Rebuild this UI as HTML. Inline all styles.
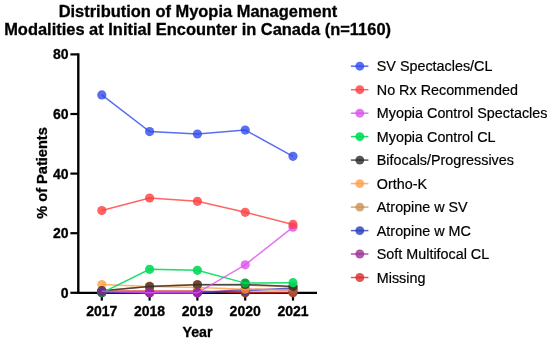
<!DOCTYPE html>
<html><head><meta charset="utf-8"><style>
html,body{margin:0;padding:0;background:#fff;width:550px;height:342px;overflow:hidden}
svg{display:block}
text{font-family:"Liberation Sans",Arial,sans-serif;fill:#000}
.b{font-weight:bold;stroke:#000;stroke-width:0.3px}
.n{stroke:#000;stroke-width:0.2px}
</style></head><body>
<svg width="550" height="342" viewBox="0 0 550 342">
<text class="b" x="197.9" y="16.6" font-size="16.45" text-anchor="middle">Distribution of Myopia Management</text>
<text class="b" x="197.6" y="35.0" font-size="16.45" text-anchor="middle">Modalities at Initial Encounter in Canada (n=1160)</text>
<g stroke="#000" fill="none">
<line x1="78.3" y1="53.3" x2="78.3" y2="294" stroke-width="2.4"/>
<line x1="77.1" y1="292.8" x2="317" y2="292.8" stroke-width="2.3"/>
<line x1="70.4" y1="292.8" x2="78.3" y2="292.8" stroke-width="2.2"/>
<line x1="70.4" y1="233.2" x2="78.3" y2="233.2" stroke-width="2.2"/>
<line x1="70.4" y1="173.6" x2="78.3" y2="173.6" stroke-width="2.2"/>
<line x1="70.4" y1="114.0" x2="78.3" y2="114.0" stroke-width="2.2"/>
<line x1="70.4" y1="54.4" x2="78.3" y2="54.4" stroke-width="2.2"/>
<line x1="101.8" y1="292.8" x2="101.8" y2="300.6" stroke-width="2.2"/>
<line x1="149.6" y1="292.8" x2="149.6" y2="300.6" stroke-width="2.2"/>
<line x1="197.4" y1="292.8" x2="197.4" y2="300.6" stroke-width="2.2"/>
<line x1="245.2" y1="292.8" x2="245.2" y2="300.6" stroke-width="2.2"/>
<line x1="293.0" y1="292.8" x2="293.0" y2="300.6" stroke-width="2.2"/>
</g>
<text class="b" x="68.6" y="297.8" font-size="14" text-anchor="end">0</text>
<text class="b" x="68.6" y="238.2" font-size="14" text-anchor="end">20</text>
<text class="b" x="68.6" y="178.6" font-size="14" text-anchor="end">40</text>
<text class="b" x="68.6" y="119.0" font-size="14" text-anchor="end">60</text>
<text class="b" x="68.6" y="59.4" font-size="14" text-anchor="end">80</text>
<text class="b" x="101.8" y="315.6" font-size="14" text-anchor="middle">2017</text>
<text class="b" x="149.6" y="315.6" font-size="14" text-anchor="middle">2018</text>
<text class="b" x="197.4" y="315.6" font-size="14" text-anchor="middle">2019</text>
<text class="b" x="245.2" y="315.6" font-size="14" text-anchor="middle">2020</text>
<text class="b" x="293.0" y="315.6" font-size="14" text-anchor="middle">2021</text>
<text class="b" x="197.5" y="337.1" font-size="14.2" text-anchor="middle">Year</text>
<text class="b" transform="translate(47.1,173.0) rotate(-90)" x="0" y="0" font-size="14.6" text-anchor="middle">% of Patients</text>
<circle cx="101.8" cy="291.0" r="4.6" fill="rgb(218,43,43)" opacity="0.8"/>
<circle cx="149.6" cy="291.0" r="4.6" fill="rgb(218,43,43)" opacity="0.8"/>
<circle cx="197.4" cy="291.0" r="4.6" fill="rgb(218,43,43)" opacity="0.8"/>
<circle cx="245.2" cy="292.8" r="4.6" fill="rgb(150,58,40)" opacity="1"/>
<circle cx="293.0" cy="292.8" r="4.6" fill="rgb(165,75,45)" opacity="1"/>
<polyline points="101.8,291.0 149.6,291.0 197.4,291.0 245.2,292.8 293.0,292.8" fill="none" stroke="rgb(218,43,43)" stroke-width="1.5" opacity="0.8"/>
<circle cx="101.8" cy="292.2" r="4.6" fill="rgb(159,46,146)" opacity="0.8"/>
<circle cx="149.6" cy="292.8" r="4.6" fill="rgb(159,46,146)" opacity="0.8"/>
<circle cx="197.4" cy="292.8" r="4.6" fill="rgb(159,46,146)" opacity="0.8"/>
<circle cx="245.2" cy="289.2" r="4.6" fill="rgb(159,46,146)" opacity="0.8"/>
<circle cx="293.0" cy="290.1" r="4.6" fill="rgb(159,46,146)" opacity="0.8"/>
<polyline points="101.8,292.2 149.6,292.8 197.4,292.8 245.2,289.2 293.0,290.1" fill="none" stroke="rgb(159,46,146)" stroke-width="1.5" opacity="0.8"/>
<circle cx="101.8" cy="292.8" r="4.6" fill="rgb(43,59,184)" opacity="0.8"/>
<circle cx="149.6" cy="292.8" r="4.6" fill="rgb(43,59,184)" opacity="0.8"/>
<circle cx="197.4" cy="292.8" r="4.6" fill="rgb(43,59,184)" opacity="0.8"/>
<circle cx="245.2" cy="290.7" r="4.6" fill="rgb(43,59,184)" opacity="0.8"/>
<circle cx="293.0" cy="288.0" r="4.6" fill="rgb(43,59,184)" opacity="0.8"/>
<polyline points="101.8,292.8 149.6,292.8 197.4,292.8 245.2,290.7 293.0,288.0" fill="none" stroke="rgb(43,59,184)" stroke-width="1.5" opacity="0.8"/>
<circle cx="101.8" cy="291.0" r="4.6" fill="rgb(201,146,84)" opacity="0.8"/>
<circle cx="149.6" cy="286.2" r="4.6" fill="rgb(201,146,84)" opacity="0.8"/>
<circle cx="197.4" cy="284.5" r="4.6" fill="rgb(201,146,84)" opacity="0.8"/>
<circle cx="245.2" cy="285.1" r="4.6" fill="rgb(201,146,84)" opacity="0.8"/>
<circle cx="293.0" cy="286.8" r="4.6" fill="rgb(201,146,84)" opacity="0.8"/>
<polyline points="101.8,291.0 149.6,286.2 197.4,284.5 245.2,285.1 293.0,286.8" fill="none" stroke="rgb(201,146,84)" stroke-width="1.5" opacity="0.8"/>
<circle cx="101.8" cy="284.5" r="4.6" fill="rgb(255,159,68)" opacity="0.8"/>
<circle cx="149.6" cy="286.5" r="4.6" fill="rgb(255,159,68)" opacity="0.8"/>
<circle cx="197.4" cy="287.4" r="4.6" fill="rgb(255,159,68)" opacity="0.8"/>
<circle cx="245.2" cy="289.2" r="4.6" fill="rgb(225,125,55)" opacity="1"/>
<circle cx="293.0" cy="290.1" r="4.6" fill="rgb(175,85,50)" opacity="1"/>
<polyline points="101.8,284.5 149.6,286.5 197.4,287.4 245.2,289.2 293.0,290.1" fill="none" stroke="rgb(255,159,68)" stroke-width="1.5" opacity="0.8"/>
<circle cx="101.8" cy="290.7" r="4.6" fill="rgb(43,43,43)" opacity="0.8"/>
<circle cx="149.6" cy="286.5" r="4.6" fill="rgb(108,70,42)" opacity="1"/>
<circle cx="197.4" cy="284.8" r="4.6" fill="rgb(108,70,42)" opacity="1"/>
<circle cx="245.2" cy="284.5" r="4.6" fill="rgb(43,43,43)" opacity="0.8"/>
<circle cx="293.0" cy="286.5" r="4.6" fill="rgb(43,43,43)" opacity="0.8"/>
<polyline points="101.8,290.7 149.6,286.5 197.4,284.8 245.2,284.5 293.0,286.5" fill="none" stroke="rgb(43,43,43)" stroke-width="1.5" opacity="0.8"/>
<circle cx="101.8" cy="292.8" r="4.6" fill="rgb(40,125,70)" opacity="1"/>
<circle cx="149.6" cy="269.3" r="4.6" fill="rgb(5,219,92)" opacity="0.92"/>
<circle cx="197.4" cy="270.3" r="4.6" fill="rgb(5,219,92)" opacity="0.92"/>
<circle cx="245.2" cy="283.1" r="4.6" fill="rgb(15,165,60)" opacity="1"/>
<circle cx="293.0" cy="282.7" r="4.6" fill="rgb(5,219,92)" opacity="0.92"/>
<polyline points="101.8,292.8 149.6,269.3 197.4,270.3 245.2,283.1 293.0,282.7" fill="none" stroke="rgb(5,219,92)" stroke-width="1.5" opacity="0.92"/>
<circle cx="101.8" cy="291.3" r="4.6" fill="rgb(98,55,125)" opacity="1"/>
<circle cx="149.6" cy="292.8" r="4.6" fill="rgb(155,38,172)" opacity="1"/>
<circle cx="197.4" cy="292.8" r="4.6" fill="rgb(155,38,172)" opacity="1"/>
<circle cx="245.2" cy="264.8" r="4.6" fill="rgb(221,80,239)" opacity="0.8"/>
<circle cx="293.0" cy="227.2" r="4.6" fill="rgb(221,80,239)" opacity="0.8"/>
<polyline points="101.8,291.3 149.6,292.8 197.4,292.8 245.2,264.8 293.0,227.2" fill="none" stroke="rgb(221,80,239)" stroke-width="1.5" opacity="0.8"/>
<circle cx="101.8" cy="210.6" r="4.6" fill="rgb(255,61,61)" opacity="0.8"/>
<circle cx="149.6" cy="198.0" r="4.6" fill="rgb(255,61,61)" opacity="0.8"/>
<circle cx="197.4" cy="201.3" r="4.6" fill="rgb(255,61,61)" opacity="0.8"/>
<circle cx="245.2" cy="212.3" r="4.6" fill="rgb(255,61,61)" opacity="0.8"/>
<circle cx="293.0" cy="224.4" r="4.6" fill="rgb(255,61,61)" opacity="0.8"/>
<polyline points="101.8,210.6 149.6,198.0 197.4,201.3 245.2,212.3 293.0,224.4" fill="none" stroke="rgb(255,61,61)" stroke-width="1.5" opacity="0.8"/>
<circle cx="101.8" cy="94.9" r="4.6" fill="rgb(49,74,236)" opacity="0.8"/>
<circle cx="149.6" cy="131.6" r="4.6" fill="rgb(49,74,236)" opacity="0.8"/>
<circle cx="197.4" cy="134.0" r="4.6" fill="rgb(49,74,236)" opacity="0.8"/>
<circle cx="245.2" cy="130.1" r="4.6" fill="rgb(49,74,236)" opacity="0.8"/>
<circle cx="293.0" cy="156.3" r="4.6" fill="rgb(49,74,236)" opacity="0.8"/>
<polyline points="101.8,94.9 149.6,131.6 197.4,134.0 245.2,130.1 293.0,156.3" fill="none" stroke="rgb(49,74,236)" stroke-width="1.5" opacity="0.8"/>
<circle cx="359.8" cy="66.2" r="4.45" fill="rgb(49,74,236)" opacity="0.8"/>
<line x1="350.9" y1="66.2" x2="368.4" y2="66.2" stroke="rgb(49,74,236)" stroke-width="1.5" opacity="0.8"/>
<text class="n" x="376.8" y="71.3" font-size="14.35">SV Spectacles/CL</text>
<circle cx="359.8" cy="89.7" r="4.45" fill="rgb(255,61,61)" opacity="0.8"/>
<line x1="350.9" y1="89.7" x2="368.4" y2="89.7" stroke="rgb(255,61,61)" stroke-width="1.5" opacity="0.8"/>
<text class="n" x="376.8" y="94.8" font-size="14.35">No Rx Recommended</text>
<circle cx="359.8" cy="113.2" r="4.45" fill="rgb(221,80,239)" opacity="0.8"/>
<line x1="350.9" y1="113.2" x2="368.4" y2="113.2" stroke="rgb(221,80,239)" stroke-width="1.5" opacity="0.8"/>
<text class="n" x="376.8" y="118.3" font-size="14.35">Myopia Control Spectacles</text>
<circle cx="359.8" cy="136.6" r="4.45" fill="rgb(5,219,92)" opacity="0.92"/>
<line x1="350.9" y1="136.6" x2="368.4" y2="136.6" stroke="rgb(5,219,92)" stroke-width="1.5" opacity="0.92"/>
<text class="n" x="376.8" y="141.7" font-size="14.35">Myopia Control CL</text>
<circle cx="359.8" cy="160.1" r="4.45" fill="rgb(43,43,43)" opacity="0.8"/>
<line x1="350.9" y1="160.1" x2="368.4" y2="160.1" stroke="rgb(43,43,43)" stroke-width="1.5" opacity="0.8"/>
<text class="n" x="376.8" y="165.2" font-size="14.35">Bifocals/Progressives</text>
<circle cx="359.8" cy="183.6" r="4.45" fill="rgb(255,159,68)" opacity="0.8"/>
<line x1="350.9" y1="183.6" x2="368.4" y2="183.6" stroke="rgb(255,159,68)" stroke-width="1.5" opacity="0.8"/>
<text class="n" x="376.8" y="188.7" font-size="14.35">Ortho-K</text>
<circle cx="359.8" cy="207.1" r="4.45" fill="rgb(201,146,84)" opacity="0.8"/>
<line x1="350.9" y1="207.1" x2="368.4" y2="207.1" stroke="rgb(201,146,84)" stroke-width="1.5" opacity="0.8"/>
<text class="n" x="376.8" y="212.2" font-size="14.35">Atropine w SV</text>
<circle cx="359.8" cy="230.6" r="4.45" fill="rgb(43,59,184)" opacity="0.8"/>
<line x1="350.9" y1="230.6" x2="368.4" y2="230.6" stroke="rgb(43,59,184)" stroke-width="1.5" opacity="0.8"/>
<text class="n" x="376.8" y="235.7" font-size="14.35">Atropine w MC</text>
<circle cx="359.8" cy="254.0" r="4.45" fill="rgb(159,46,146)" opacity="0.8"/>
<line x1="350.9" y1="254.0" x2="368.4" y2="254.0" stroke="rgb(159,46,146)" stroke-width="1.5" opacity="0.8"/>
<text class="n" x="376.8" y="259.1" font-size="14.35">Soft Multifocal CL</text>
<circle cx="359.8" cy="277.5" r="4.45" fill="rgb(218,43,43)" opacity="0.8"/>
<line x1="350.9" y1="277.5" x2="368.4" y2="277.5" stroke="rgb(218,43,43)" stroke-width="1.5" opacity="0.8"/>
<text class="n" x="376.8" y="282.6" font-size="14.35">Missing</text>
</svg></body></html>
